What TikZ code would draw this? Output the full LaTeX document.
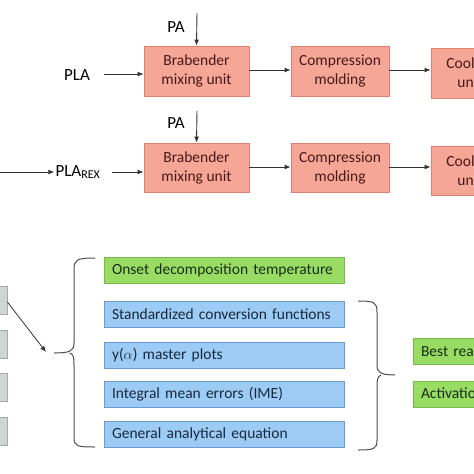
\documentclass[tikz,border=0pt]{standalone}
\usepackage{fontspec}
\setmainfont{Carlito}
\usetikzlibrary{arrows.meta,decorations.pathreplacing}
\definecolor{pinkfill}{RGB}{246,166,150}
\definecolor{pinkdraw}{RGB}{222,128,110}
\definecolor{pinktext}{RGB}{70,25,25}
\definecolor{greenfill}{RGB}{152,220,100}
\definecolor{greendraw}{RGB}{120,185,75}
\definecolor{greentext}{RGB}{25,45,20}
\definecolor{bluefill}{RGB}{156,204,245}
\definecolor{bluedraw}{RGB}{105,155,205}
\definecolor{bluetext}{RGB}{25,40,60}
\definecolor{grayfill}{RGB}{208,212,210}
\definecolor{graydraw}{RGB}{165,170,168}
\begin{document}
\begin{tikzpicture}[x=1pt,y=-1pt,
  proc/.style={draw=pinkdraw,fill=pinkfill,line width=0.8pt,text=pinktext,
    minimum width=105pt,minimum height=50pt,align=center,inner sep=0pt,
    font=\fontsize{15.5}{19}\selectfont},
  bluebox/.style={draw=bluedraw,fill=bluefill,line width=0.8pt,text=bluetext,
    minimum width=240pt,minimum height=26pt,inner sep=0pt,
    font=\fontsize{15.5}{17}\selectfont},
  greenbox/.style={draw=greendraw,fill=greenfill,line width=0.8pt,text=greentext,
    minimum width=240pt,minimum height=26pt,inner sep=0pt,
    font=\fontsize{15.5}{17}\selectfont},
  graybox/.style={draw=graydraw,fill=grayfill,line width=0.8pt,minimum width=20pt,minimum height=28pt,inner sep=0pt},
  lbl/.style={font=\fontsize{17}{19}\selectfont,inner sep=1pt},
  arr/.style={-{Latex[length=6pt,width=5pt]},line width=0.9pt,draw=black!80},
  brc/.style={draw=black!70,line width=1pt}]
\useasboundingbox (0,0) rectangle (474,474);
\clip (0,0) rectangle (474,474);
% top row
\node[proc] (b1) at (196.5,71) {Brabender\\mixing unit};
\node[proc,minimum width=98pt] (c1) at (340,71) {Compression\\molding};
\node[proc,minimum width=78pt] (k1) at (470,73) {Cooling\\unit};
\node[lbl] (pa1) at (176,27) {PA};
\coordinate (pa1s) at (197,13);
\node[lbl] (pla1) at (77,75) {PLA};
\coordinate (pla1s) at (104,74);
\draw[arr] (pa1s) -- (b1.north);
\draw[arr] (pla1s) -- (b1.west |- pla1s);
\draw[arr] (b1.east |- 0,70) -- (c1.west |- 0,70);
\draw[arr] (c1.east |- 0,70) -- (k1.west |- 0,70);
% second row
\node[proc,minimum height=49pt] (b2) at (196.5,167.5) {Brabender\\mixing unit};
\node[proc,minimum width=98pt,minimum height=49pt] (c2) at (340,167.5) {Compression\\molding};
\node[proc,minimum width=78pt,minimum height=49pt] (k2) at (470,170.5) {Cooling\\unit};
\node[lbl] (pa2) at (176,123) {PA};
\coordinate (pa2s) at (197,111);
\node[lbl] (pla2) at (78,172) {PLA\textsubscript{\fontsize{12}{12}\selectfont REX}};
\coordinate (in2) at (-5,172);
\coordinate (pla2s) at (112,172);
\draw[arr] (pa2s) -- (b2.north);
\draw[arr] (in2) -- (pla2.west);
\draw[arr] (pla2s) -- (b2.west |- pla2s);
\draw[arr] (b2.east |- 0,167) -- (c2.west |- 0,167);
\draw[arr] (c2.east |- 0,167) -- (k2.west |- 0,167);
% bottom: gray boxes at left edge
\node[graybox] (g1) at (-3,300) {};
\node[graybox] (g2) at (-3,344) {};
\node[graybox] (g3) at (-3,387.5) {};
\node[graybox] (g4) at (-3,431) {};
\coordinate (brtip) at (46,352);
\draw[arr,line width=0.8pt] (g1.east |- 0,302) -- (brtip);
% green and blue boxes
\node[greenbox,text width=224pt] (on) at (224,270) {Onset decomposition temperature};
\node[bluebox,text width=224pt] (s1) at (224,314) {Standardized conversion functions};
\node[bluebox,text width=224pt] (s2) at (224,355) {y($\alpha$) master plots};
\node[bluebox,text width=224pt] (s3) at (224,394) {Integral mean errors (IME)};
\node[bluebox,text width=224pt] (s4) at (224,434.5) {General analytical equation};
% left brace
\draw[brc] (95,258) .. controls (76,258) and (74,260) .. (74,270)
  -- (74,343) .. controls (74,351) and (70,353) .. (54,353)
  (70,353) .. controls (74,355) and (74,358) .. (74,365)
  -- (74,437) .. controls (74,446) and (76,447) .. (95,447);
% right brace
\draw[brc] (358,301) .. controls (374,301) and (377,302) .. (377,312)
  -- (377,365) .. controls (377,372) and (380,375) .. (395,375)
  (381,375) .. controls (377,377) and (377,380) .. (377,388)
  -- (377,440) .. controls (377,449) and (374,450) .. (358,450);
% right green boxes
\node[greenbox,text width=160pt,minimum width=176pt] (br) at (501,351) {Best reaction model};
\node[greenbox,text width=160pt,minimum width=176pt] (ac) at (501,394) {Activation energy};
\end{tikzpicture}
\end{document}
